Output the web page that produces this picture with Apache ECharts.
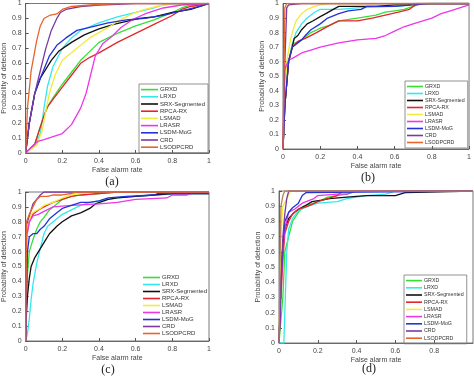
<!DOCTYPE html>
<html>
<head>
<meta charset="utf-8">
<script src="https://cdn.jsdelivr.net/npm/echarts@6/dist/echarts.min.js"></script>
<style>
  html, body { margin: 0; padding: 0; background: #fff; }
  #chart { width: 474px; height: 376px; }
</style>
</head>
<body>
<div id="chart"></div>
<script>
// ROC curves, 4 data sets (a)-(d)

var methods = ['GRXD', 'LRXD', 'SRX-Segmented', 'RPCA-RX', 'LSMAD', 'LRASR', 'LSDM-MoG', 'CRD', 'LSODPCRD'];
var panelTags = ['(a)', '(b)', '(c)', '(d)'];
var xTicks = [0, 0.2, 0.4, 0.6, 0.8, 1];
var yTicks = [0, 0.1, 0.2, 0.3, 0.4, 0.5, 0.6, 0.7, 0.8, 0.9, 1];

// (a) - same order as methods
var rocA = [
  [[0,0],[0.05,0.06],[0.1,0.25],[0.12,0.31],[0.15,0.37],[0.2,0.46],[0.25,0.54],[0.3,0.62],[0.35,0.68],[0.4,0.74],[0.5,0.8],[0.6,0.85],[0.7,0.89],[0.8,0.94],[0.85,0.97],[0.9,0.99],[1,1]],
  [[0,0],[0.05,0.05],[0.08,0.13],[0.1,0.3],[0.12,0.45],[0.15,0.58],[0.2,0.7],[0.25,0.77],[0.3,0.82],[0.4,0.87],[0.5,0.91],[0.6,0.94],[0.7,0.97],[0.75,0.99],[0.8,1],[1,1]],
  [[0,0],[0.02,0.2],[0.05,0.4],[0.08,0.5],[0.1,0.54],[0.14,0.62],[0.18,0.68],[0.25,0.74],[0.32,0.79],[0.4,0.83],[0.48,0.86],[0.55,0.88],[0.62,0.9],[0.7,0.91],[0.8,0.94],[0.9,0.96],[1,1]],
  [[0,0],[0.05,0.06],[0.1,0.25],[0.12,0.31],[0.15,0.36],[0.2,0.44],[0.25,0.52],[0.3,0.6],[0.35,0.64],[0.4,0.67],[0.5,0.74],[0.6,0.8],[0.7,0.86],[0.8,0.92],[0.85,0.96],[0.9,0.98],[1,1]],
  [[0,0],[0.06,0.05],[0.09,0.15],[0.11,0.28],[0.13,0.4],[0.16,0.52],[0.2,0.62],[0.25,0.67],[0.3,0.72],[0.35,0.77],[0.45,0.84],[0.5,0.88],[0.58,0.93],[0.65,0.96],[0.75,0.99],[0.8,1],[1,1]],
  [[0,0],[0.04,0.05],[0.07,0.08],[0.1,0.09],[0.15,0.11],[0.2,0.13],[0.25,0.19],[0.3,0.3],[0.33,0.4],[0.36,0.55],[0.38,0.65],[0.42,0.73],[0.47,0.78],[0.52,0.84],[0.58,0.89],[0.65,0.93],[0.75,0.97],[0.85,0.99],[1,1]],
  [[0,0],[0.02,0.2],[0.05,0.4],[0.08,0.5],[0.1,0.56],[0.13,0.65],[0.17,0.72],[0.22,0.77],[0.28,0.82],[0.35,0.84],[0.45,0.87],[0.55,0.89],[0.65,0.9],[0.75,0.92],[0.85,0.95],[0.95,0.98],[1,1]],
  [[0,0],[0.02,0.2],[0.05,0.4],[0.08,0.55],[0.11,0.7],[0.14,0.82],[0.17,0.9],[0.19,0.94],[0.22,0.96],[0.3,0.98],[0.4,0.99],[0.6,1],[1,1]],
  [[0,0],[0.01,0.3],[0.03,0.55],[0.06,0.75],[0.08,0.85],[0.1,0.9],[0.13,0.92],[0.17,0.93],[0.2,0.96],[0.25,0.98],[0.35,0.99],[0.5,1],[1,1]]
];

// (b)
var rocB = [
  [[0,0],[0.01,0.3],[0.03,0.6],[0.05,0.72],[0.1,0.75],[0.15,0.8],[0.2,0.83],[0.25,0.85],[0.3,0.88],[0.4,0.9],[0.5,0.92],[0.55,0.94],[0.6,0.95],[0.65,0.96],[0.7,0.98],[0.75,1],[1,1]],
  [[0,0],[0.01,0.4],[0.03,0.6],[0.05,0.72],[0.07,0.8],[0.1,0.86],[0.13,0.9],[0.17,0.94],[0.2,0.96],[0.3,0.96],[0.4,0.97],[0.6,0.98],[0.7,0.99],[0.8,1],[1,1]],
  [[0,0],[0.01,0.3],[0.03,0.6],[0.05,0.7],[0.06,0.76],[0.08,0.78],[0.1,0.82],[0.13,0.86],[0.16,0.88],[0.2,0.91],[0.23,0.93],[0.27,0.96],[0.3,0.98],[0.5,0.98],[0.6,0.99],[0.67,0.99],[0.7,1],[1,1]],
  [[0,0],[0.01,0.3],[0.03,0.6],[0.05,0.7],[0.08,0.74],[0.12,0.76],[0.18,0.8],[0.25,0.85],[0.3,0.88],[0.4,0.88],[0.48,0.9],[0.55,0.92],[0.62,0.94],[0.68,0.96],[0.7,0.98],[0.72,1],[1,1]],
  [[0,0],[0.01,0.4],[0.02,0.6],[0.04,0.75],[0.05,0.8],[0.07,0.88],[0.1,0.93],[0.13,0.96],[0.17,0.98],[0.2,0.99],[0.25,1],[1,1]],
  [[0,0],[0.005,0.4],[0.01,0.55],[0.03,0.61],[0.06,0.63],[0.1,0.66],[0.15,0.68],[0.2,0.7],[0.3,0.73],[0.4,0.75],[0.5,0.76],[0.55,0.78],[0.6,0.81],[0.65,0.84],[0.7,0.86],[0.8,0.9],[0.85,0.93],[0.9,0.95],[0.95,0.97],[1,0.99]],
  [[0,0],[0.01,0.3],[0.03,0.6],[0.05,0.7],[0.1,0.75],[0.12,0.78],[0.15,0.82],[0.2,0.86],[0.24,0.9],[0.3,0.93],[0.35,0.95],[0.42,0.96],[0.45,0.98],[0.6,0.98],[0.7,0.99],[0.78,1],[1,1]],
  [[0,0],[0.01,0.6],[0.02,0.97],[0.03,0.99],[0.1,1],[1,1]],
  [[0,0],[0.005,0.5],[0.01,0.97],[0.02,1],[1,1]]
];

// (c)
var rocC = [
  [[0,0],[0.01,0.45],[0.02,0.6],[0.04,0.68],[0.06,0.75],[0.08,0.8],[0.1,0.83],[0.13,0.88],[0.17,0.92],[0.2,0.95],[0.25,0.97],[0.3,0.98],[0.4,0.99],[0.5,1],[1,1]],
  [[0,0],[0.01,0.05],[0.02,0.15],[0.03,0.28],[0.04,0.38],[0.06,0.52],[0.08,0.62],[0.1,0.72],[0.12,0.77],[0.15,0.8],[0.2,0.85],[0.25,0.88],[0.3,0.91],[0.35,0.93],[0.4,0.94],[0.45,0.95],[0.5,0.96],[0.6,0.97],[0.7,0.98],[0.85,0.99],[1,0.99]],
  [[0,0],[0.005,0.2],[0.01,0.3],[0.02,0.42],[0.03,0.5],[0.05,0.56],[0.07,0.6],[0.1,0.66],[0.13,0.72],[0.17,0.77],[0.2,0.8],[0.25,0.84],[0.3,0.86],[0.35,0.89],[0.38,0.92],[0.45,0.95],[0.5,0.96],[0.6,0.97],[0.7,0.98],[0.8,0.99],[1,0.99]],
  [[0,0],[0.005,0.7],[0.02,0.8],[0.04,0.85],[0.07,0.88],[0.1,0.9],[0.15,0.93],[0.2,0.95],[0.25,0.97],[0.3,0.98],[0.4,0.99],[0.5,1],[1,1]],
  [[0,0],[0.01,0.75],[0.03,0.85],[0.05,0.87],[0.08,0.89],[0.1,0.91],[0.15,0.93],[0.2,0.96],[0.25,0.98],[0.3,0.99],[0.4,1],[1,1]],
  [[0,0],[0.005,0.7],[0.02,0.8],[0.04,0.84],[0.07,0.85],[0.1,0.87],[0.15,0.9],[0.25,0.91],[0.4,0.92],[0.5,0.93],[0.6,0.95],[0.77,0.96],[0.8,0.98],[0.88,0.98],[0.9,0.99],[1,1]],
  [[0,0],[0.01,0.6],[0.02,0.7],[0.04,0.72],[0.06,0.72],[0.08,0.75],[0.1,0.77],[0.13,0.82],[0.17,0.86],[0.2,0.89],[0.25,0.91],[0.3,0.93],[0.35,0.93],[0.4,0.94],[0.45,0.96],[0.55,0.97],[0.7,0.98],[0.72,0.99],[1,0.99]],
  [[0,0],[0.005,0.78],[0.02,0.84],[0.04,0.92],[0.06,0.95],[0.08,0.98],[0.1,1],[1,1]],
  [[0,0],[0.005,0.8],[0.02,0.85],[0.04,0.9],[0.06,0.95],[0.08,0.97],[0.12,0.97],[0.15,0.98],[0.2,0.98],[0.25,0.99],[0.28,1],[1,1]]
];

// (d)
var rocD = [
  [[0,0],[0.02,0.3],[0.03,0.6],[0.05,0.7],[0.07,0.8],[0.1,0.86],[0.13,0.9],[0.18,0.92],[0.22,0.94],[0.25,0.96],[0.3,0.97],[0.35,0.98],[0.4,1],[1,1]],
  [[0,0],[0.025,0],[0.03,0.2],[0.04,0.6],[0.05,0.75],[0.07,0.82],[0.1,0.87],[0.15,0.9],[0.2,0.92],[0.3,0.93],[0.35,0.95],[0.4,0.96],[0.45,0.97],[0.55,0.98],[0.6,1],[1,1]],
  [[0,0],[0.01,0.4],[0.02,0.65],[0.03,0.75],[0.05,0.82],[0.08,0.86],[0.1,0.88],[0.13,0.9],[0.17,0.93],[0.22,0.94],[0.26,0.95],[0.35,0.96],[0.45,0.97],[0.6,0.97],[0.65,0.99],[0.66,1],[1,1]],
  [[0,0],[0.01,0.3],[0.02,0.55],[0.03,0.72],[0.05,0.8],[0.07,0.85],[0.1,0.88],[0.15,0.9],[0.2,0.93],[0.25,0.95],[0.3,0.97],[0.33,1],[1,1]],
  [[0,0],[0.01,0.7],[0.02,0.9],[0.04,0.95],[0.06,1],[1,1]],
  [[0,0],[0.01,0.35],[0.02,0.6],[0.03,0.75],[0.05,0.86],[0.08,0.88],[0.12,0.92],[0.18,0.95],[0.2,0.97],[0.3,0.98],[0.35,0.98],[0.4,1],[1,1]],
  [[0,0],[0.01,0.4],[0.02,0.65],[0.03,0.8],[0.05,0.86],[0.07,0.89],[0.1,0.92],[0.12,0.97],[0.14,0.99],[0.15,1],[1,1]],
  [[0,0],[0.01,0.4],[0.02,0.7],[0.03,0.85],[0.04,0.95],[0.05,1],[1,1]],
  [[0,0],[0.005,0.5],[0.01,0.9],[0.02,0.97],[0.03,1],[1,1]]
];

var rocs = [rocA, rocB, rocC, rocD];

var lineColors = ['#35e035', '#35e8ec', '#111111', '#e3262b', '#f0ec3a', '#ec36e8', '#2432d8', '#7a3aa0', '#e8642c'];
var lineColorsD = lineColors.slice(0, 8).concat(['#b8805a']);

var grids = [
  { left: 19, right: 265, top: 3, bottom: 223 },
  { left: 283, right: 4, top: 3, bottom: 227 },
  { left: 20, right: 265, top: 192, bottom: 35 },
  { left: 279, right: 1, top: 191, bottom: 33 }
];
var legendPos = [
  { left: 139, top: 84, box: true, font: 6, lh: 7.2, w: 17 },
  { left: 405, top: 81, box: true, font: 5.3, lh: 7, w: 16 },
  { left: 141, top: 272, box: false, font: 6, lh: 7, w: 17 },
  { left: 404, top: 275, box: true, font: 5.3, lh: 7.2, w: 16 }
];
var tagPos = [[112, 182], [368, 178], [108, 370], [369, 369]];

var xAxes = [], yAxes = [], series = [], legends = [], graphics = [];

for (var p = 0; p < 4; p++) {
  grids[p].show = true;
  grids[p].borderColor = '#555';
  grids[p].borderWidth = 0.8;
  xAxes.push({
    gridIndex: p, type: 'value', min: 0, max: 1, interval: 0.2,
    name: 'False alarm rate', nameLocation: 'middle', nameGap: 14,
    nameTextStyle: { fontSize: 7, color: '#444', fontFamily: 'Arial' },
    axisLine: { show: true, lineStyle: { color: '#555', width: 0.8 } },
    axisTick: { inside: true, length: 3, lineStyle: { color: '#555' } },
    axisLabel: { fontSize: 7, color: '#444', margin: 5, fontFamily: 'Arial',
      showMaxLabel: p !== 3 },
    splitLine: { show: false }
  });
  yAxes.push({
    gridIndex: p, type: 'value', min: 0, max: 1, interval: 0.1,
    name: 'Probability of detection', nameLocation: 'middle', nameGap: 15,
    nameTextStyle: { fontSize: 7, color: '#444', fontFamily: 'Arial' },
    axisLine: { show: true, lineStyle: { color: '#555', width: 0.8 } },
    axisTick: { inside: true, length: 3, lineStyle: { color: '#555' } },
    axisLabel: { fontSize: 7, color: '#444', margin: 4, fontFamily: 'Arial',
      formatter: function (v) { return String(+v.toFixed(1)); } },
    splitLine: { show: false }
  });
  var cols = p === 3 ? lineColorsD : lineColors;
  for (var m = 0; m < methods.length; m++) {
    series.push({
      name: methods[m], type: 'line', xAxisIndex: p, yAxisIndex: p,
      data: rocs[p][m], symbol: 'none', silent: true,
      lineStyle: { color: cols[m], width: 1.3 },
      itemStyle: { color: cols[m] }
    });
  }
  var lp = legendPos[p];
  legends.push({
    data: methods, orient: 'vertical', left: lp.left, top: lp.top,
    icon: 'rect', itemWidth: lp.w, itemHeight: 1.6, itemGap: 0,
    padding: [2, 3, 2, 2],
    borderColor: lp.box ? '#777' : 'transparent', borderWidth: 0.8,
    textStyle: { fontSize: lp.font, color: '#333', fontFamily: 'Arial', lineHeight: lp.lh, padding: [0, 0, 0, -3] },
    selectedMode: false
  });
  graphics.push({
    type: 'text', x: tagPos[p][0], y: tagPos[p][1],
    style: { text: panelTags[p], font: '12px "Liberation Serif"', fill: '#222',
      textAlign: 'center', textVerticalAlign: 'middle' }
  });
}

var myChart = echarts.init(document.getElementById('chart'));
myChart.setOption({
  animation: false,
  grid: grids,
  xAxis: xAxes,
  yAxis: yAxes,
  legend: legends,
  graphic: graphics,
  series: series
});
</script>
</body>
</html>
